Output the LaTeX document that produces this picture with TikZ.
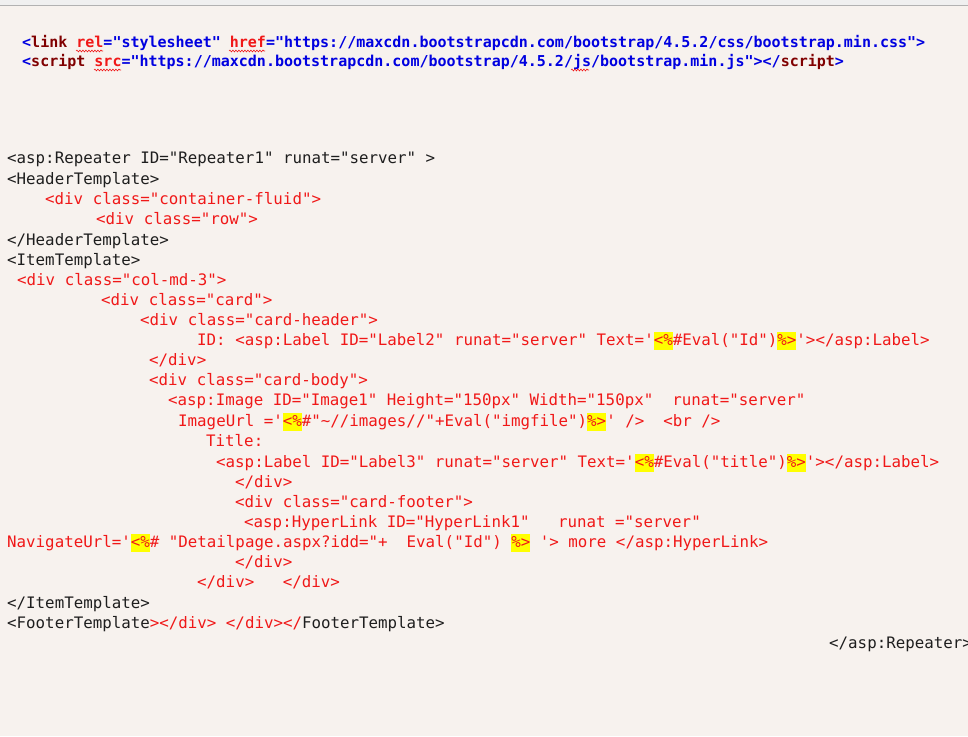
\documentclass[tikz,border=0pt]{standalone}
\usepackage{fontspec}
\setmonofont{DejaVu Sans Mono}[WordSpace={1,0,0}]
\usetikzlibrary{decorations.pathmorphing}
\definecolor{bg}{HTML}{F7F2EE}
\definecolor{topbar}{HTML}{F0F0F0}
\definecolor{codered}{HTML}{F01818}
\definecolor{codeblk}{HTML}{1E1E1E}
\definecolor{codeblue}{HTML}{0000E0}
\definecolor{dkred}{HTML}{800000}
\definecolor{hly}{HTML}{FFFF00}
\newcommand\hlx[1]{{\setlength{\fboxsep}{0pt}\colorbox{hly}{\rule[-5pt]{0pt}{18pt}#1}}}
\newcommand\bl[1]{{\color{codeblue}#1}}
\newcommand\dr[1]{{\color{dkred}#1}}
\newcommand\rd[1]{{\color{codered}#1}}
\newcommand\bk[1]{{\color{codeblk}#1}}
\tikzset{
  code/.style={anchor=base west, inner sep=0pt, font=\ttfamily\fontsize{15.8}{18}\selectfont, text=codered},
  blk/.style={code, text=codeblk},
  top/.style={code, font=\ttfamily\bfseries\fontsize{15}{18}\selectfont, text=codeblue},
  squig/.style={draw=codered, line width=0.6pt, decorate, decoration={snake, amplitude=0.9pt, segment length=3pt}}
}
\begin{document}
\begin{tikzpicture}[x=1pt,y=-1pt]
\useasboundingbox (0,0) rectangle (968,736);
\clip (0,0) rectangle (968,736);
\fill[bg] (0,0) rectangle (968,736);
\fill[topbar] (0,0) rectangle (968,5);
\draw[color=black!30, line width=1pt] (0,5.5) -- (968,5.5);
\node[top] (l1) at (22,47) {<\dr{link} \rd{rel}="stylesheet" \rd{href}="https://maxcdn.bootstrapcdn.com/bootstrap/4.5.2/css/bootstrap.min.css">};
\node[top] (l2) at (22,66) {<\dr{script} \rd{src}="https://maxcdn.bootstrapcdn.com/bootstrap/4.5.2/js/bootstrap.min.js"></\dr{script}>};
\draw[squig] (76,51) -- (103,51);
\draw[squig] (229,51) -- (265,51);
\draw[squig] (94,70) -- (121,70);
\draw[squig] (571,70) -- (589,70);
\node[blk] (a1) at (7,163) {<asp:Repeater ID="Repeater1" runat="server" >};
\node[blk] (a2) at (7,184) {<HeaderTemplate>};
\node[code] (a3) at (45,204) {<div class="container-fluid">};
\node[code] (a4) at (96,224) {<div class="row">};
\node[blk] (a5) at (7,245) {</HeaderTemplate>};
\node[blk] (a6) at (7,265) {<ItemTemplate>};
\node[code] (a7) at (17,285) {<div class="col-md-3">};
\node[code] (a8) at (101,305) {<div class="card">};
\node[code] (a9) at (140,325) {<div class="card-header">};
\node[code] (a10) at (197,345) {ID: <asp:Label ID="Label2" runat="server" Text='\hlx{<\%}\#Eval("Id")\hlx{\%>}'></asp:Label>};
\node[code] (a11) at (149,365) {</div>};
\node[code] (a12) at (149,385) {<div class="card-body">};
\node[code] (a13) at (168,405) {<asp:Image ID="Image1" Height="150px" Width="150px"~~runat="server"};
\node[code] (a14) at (178,426) {ImageUrl ='\hlx{<\%}\#"\textasciitilde//images//"+Eval("imgfile")\hlx{\%>}' />~~<br />};
\node[code] (a15) at (206,446) {Title:};
\node[code] (a16) at (216,467) {<asp:Label ID="Label3" runat="server" Text='\hlx{<\%}\#Eval("title")\hlx{\%>}'></asp:Label>};
\node[code] (a17) at (235,487) {</div>};
\node[code] (a18) at (235,507) {<div class="card-footer">};
\node[code] (a19) at (244,527) {<asp:HyperLink ID="HyperLink1"~~~runat ="server"};
\node[code] (a20) at (7,547) {NavigateUrl='\hlx{<\%}\# "Detailpage.aspx?idd="+~~Eval("Id") \hlx{\%>} '> more </asp:HyperLink>};
\node[code] (a21) at (235,567) {</div>};
\node[code] (a22) at (197,587) {</div>~~~</div>};
\node[blk] (a23) at (7,608) {</ItemTemplate>};
\node[code] (a24) at (7,628) {\bk{<FooterTemplate}></div> </div></\bk{FooterTemplate>}};
\node[blk] (a25) at (829,648) {</asp:Repeater>};
\end{tikzpicture}
\end{document}
